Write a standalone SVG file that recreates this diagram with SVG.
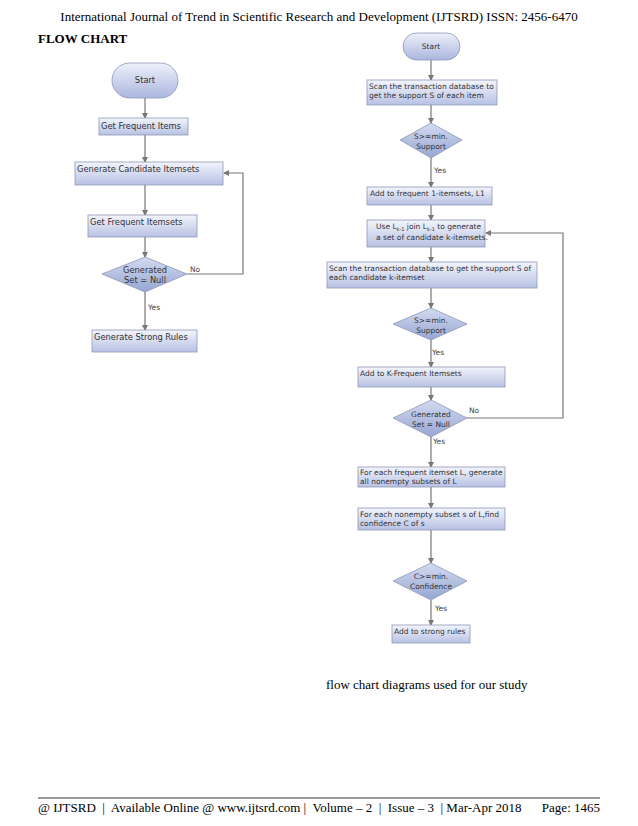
<svg xmlns="http://www.w3.org/2000/svg" width="638" height="826" viewBox="0 0 638 826">
<style>
.hd{font-family:"Liberation Serif",serif;font-size:13px;fill:#000}
.n rect,.n polygon{fill:url(#g);stroke:#8f98b5;stroke-width:0.8}
.n .pill{fill:url(#gp)}
.n polygon{fill:url(#gd)}
.t{font-family:"DejaVu Sans",sans-serif;font-size:7.5px;fill:#333}
.L .t{font-size:8.3px}
.c{text-anchor:middle}
.ln{stroke:#777;stroke-width:1.2;fill:none;marker-end:url(#a)}
.lb{font-family:"DejaVu Sans",sans-serif;font-size:7.5px;fill:#444}
</style>
<defs>
<linearGradient id="g" x1="0" y1="0" x2="0" y2="1"><stop offset="0" stop-color="#f3f5fc"/><stop offset="1" stop-color="#b7c1e3"/></linearGradient>
<linearGradient id="gp" x1="0" y1="0" x2="0" y2="1"><stop offset="0" stop-color="#eef1fb"/><stop offset="1" stop-color="#aab6de"/></linearGradient>
<linearGradient id="gd" x1="0" y1="0" x2="0" y2="1"><stop offset="0" stop-color="#d4dbf1"/><stop offset="1" stop-color="#96a6d2"/></linearGradient>
<marker id="a" markerWidth="6" markerHeight="6" refX="5" refY="3" orient="auto" markerUnits="userSpaceOnUse"><path d="M0,0 L6,3 L0,6 z" fill="#777"/></marker>
</defs>
<rect width="638" height="826" fill="#fff"/>
<text class="hd" x="319" y="21" text-anchor="middle">International Journal of Trend in Scientific Research and Development (IJTSRD) ISSN: 2456-6470</text>
<text class="hd" x="38" y="43" font-weight="bold">FLOW CHART</text>
<text class="hd" x="326" y="689" font-size="12">flow chart diagrams used for our study</text>
<line x1="38" y1="798" x2="600" y2="798" stroke="#000" stroke-width="0.8"/>
<text class="hd" x="38" y="812" font-size="12" xml:space="preserve">@ IJTSRD  |  Available Online @ www.ijtsrd.com |  Volume – 2  |  Issue – 3  | Mar-Apr 2018</text>
<text class="hd" x="600" y="812" font-size="12" text-anchor="end">Page: 1465</text>

<g id="connectors">
<path class="ln" d="M145,98 V118"/>
<path class="ln" d="M145,135 V162"/>
<path class="ln" d="M145,185 V215"/>
<path class="ln" d="M145,237 V257"/>
<path class="ln" d="M145,292 V330"/>
<path class="ln" d="M187,274 H243 V173 H224"/>
<text class="lb" x="190" y="272" font-size="8.3">No</text>
<text class="lb" x="148" y="310" font-size="8.3">Yes</text>

<path class="ln" d="M431,60 V80"/>
<path class="ln" d="M431,105 V123"/>
<path class="ln" d="M431,158 V187"/>
<path class="ln" d="M431,205 V220"/>
<path class="ln" d="M431,247 V262"/>
<path class="ln" d="M431,288 V308"/>
<path class="ln" d="M431,340 V367"/>
<path class="ln" d="M431,387 V400"/>
<path class="ln" d="M431,437 V467"/>
<path class="ln" d="M431,487 V508"/>
<path class="ln" d="M431,530 V563"/>
<path class="ln" d="M431,600 V625"/>
<path class="ln" d="M467,418 H563 V233 H486"/>
<text class="lb" x="434" y="173">Yes</text>
<text class="lb" x="432" y="355">Yes</text>
<text class="lb" x="469" y="413">No</text>
<text class="lb" x="433" y="444">Yes</text>
<text class="lb" x="435" y="611">Yes</text>
</g>

<g class="L">
<g id="l-start" class="n"><rect class="pill" x="112" y="63" width="66" height="35" rx="17.5"/><text class="t c" x="145" y="83">Start</text></g>
<g id="l-items" class="n"><rect x="99" y="118" width="89" height="17"/><text class="t" x="101" y="129">Get Frequent Items</text></g>
<g id="l-cand" class="n"><rect x="75" y="162" width="148" height="23"/><text class="t" x="77" y="172">Generate Candidate Itemsets</text></g>
<g id="l-freq" class="n"><rect x="88" y="215" width="109" height="22"/><text class="t" x="90" y="225">Get Frequent Itemsets</text></g>
<g id="l-null" class="n"><polygon points="145,257 187,274 145,292 102,274"/><text class="t c" x="145" y="273">Generated</text><text class="t c" x="145" y="283">Set = Null</text></g>
<g id="l-rules" class="n"><rect x="92" y="330" width="105" height="22"/><text class="t" x="94" y="340">Generate Strong Rules</text></g>
</g>

<g id="r-start" class="n"><rect class="pill" x="403" y="33" width="57" height="27" rx="13.5"/><text class="t c" x="431" y="49">Start</text></g>
<g id="r-scan1" class="n"><rect x="367" y="80" width="130" height="25"/><text class="t" x="369" y="89">Scan the transaction database to</text><text class="t" x="369" y="98">get the support S of each item</text></g>
<g id="r-sup1" class="n"><polygon points="431,123 462,140 431,158 400,140"/><text class="t c" x="431" y="139">S&gt;=min.</text><text class="t c" x="431" y="149">Support</text></g>
<g id="r-l1" class="n"><rect x="367" y="187" width="125" height="18"/><text class="t" x="370" y="196">Add to frequent 1-itemsets, L1</text></g>
<g id="r-join" class="n"><rect x="367" y="220" width="118" height="27"/><text class="t" x="376" y="229">Use L<tspan font-size="5" dy="2">k-1</tspan><tspan dy="-2"> join L</tspan><tspan font-size="5" dy="2">k-1</tspan><tspan dy="-2"> to generate</tspan></text><text class="t" x="376" y="240">a set of candidate k-itemsets.</text></g>
<g id="r-scan2" class="n"><rect x="327" y="262" width="210" height="26"/><text class="t" x="329" y="271">Scan the transaction database to get the support S of</text><text class="t" x="329" y="280">each candidate k-itemset</text></g>
<g id="r-sup2" class="n"><polygon points="431,308 467,324 431,340 393,324"/><text class="t c" x="431" y="323">S&gt;=min.</text><text class="t c" x="431" y="333">Support</text></g>
<g id="r-kfreq" class="n"><rect x="358" y="367" width="147" height="20"/><text class="t" x="360" y="376">Add to K-Frequent Itemsets</text></g>
<g id="r-null" class="n"><polygon points="431,400 467,418 431,437 393,418"/><text class="t c" x="431" y="417">Generated</text><text class="t c" x="431" y="427">Set = Null</text></g>
<g id="r-subsets" class="n"><rect x="358" y="467" width="147" height="20"/><text class="t" x="360" y="475">For each frequent itemset L, generate</text><text class="t" x="360" y="484">all nonempty subsets of L</text></g>
<g id="r-conf" class="n"><rect x="358" y="508" width="147" height="22"/><text class="t" x="360" y="517">For each nonempty subset s of L,find</text><text class="t" x="360" y="526">confidence C of s</text></g>
<g id="r-cmin" class="n"><polygon points="431,563 467,581 431,600 393,581"/><text class="t c" x="431" y="579">C&gt;=min.</text><text class="t c" x="431" y="589">Confidence</text></g>
<g id="r-strong" class="n"><rect x="392" y="625" width="78" height="18"/><text class="t" x="394" y="634">Add to strong rules</text></g>
</svg>
